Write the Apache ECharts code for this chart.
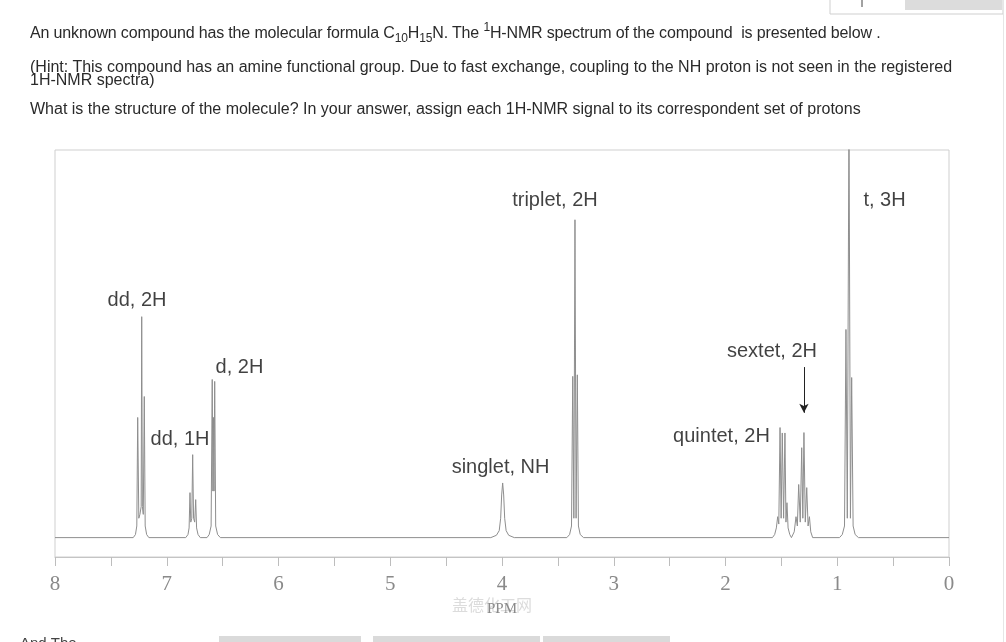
<!DOCTYPE html>
<html>
<head>
<meta charset="utf-8">
<script src="https://cdn.jsdelivr.net/npm/echarts@6/dist/echarts.min.js"></script>
<style>
  html, body { margin:0; padding:0; background:#fff; }
  body { width:1006px; height:642px; overflow:hidden; position:relative; }
  .t { position:absolute; left:30px; white-space:nowrap; font-family:'Liberation Sans', Arial, sans-serif; font-size:16px; color:#2a2a2a; line-height:18px; }
  .t sub { font-size:12px; vertical-align:-4px; line-height:0; }
  .t sup { font-size:12px; vertical-align:7px; line-height:0; }
  #chart { position:absolute; left:0; top:0; width:1006px; height:642px; }
</style>
</head>
<body>
<div id="chart"></div>
<div class="t" style="top:24px; letter-spacing:-0.15px;">An unknown compound has the molecular formula C<sub>10</sub>H<sub>15</sub>N. The <sup>1</sup>H-NMR spectrum of the compound&nbsp; is presented below .</div>
<div class="t" style="top:58px;">(Hint: This compound has an amine functional group. Due to fast exchange, coupling to the NH proton is not seen in the registered</div>
<div class="t" style="top:71px;">1H-NMR spectra)</div>
<div class="t" style="top:100px;">What is the structure of the molecule? In your answer, assign each 1H-NMR signal to its correspondent set of protons</div>
<script>
// Spectrum trace: [ppm, intensity]
const spectrum = [
  [8.00, 0],
  // dd, 2H
  [7.30, 0], [7.28, 0.8], [7.268, 3], [7.260, 31], [7.250, 5], [7.240, 6], [7.229, 8], [7.224, 57], [7.218, 8], [7.210, 6], [7.201, 36.4], [7.193, 3], [7.18, 0.8], [7.16, 0],
  // dd, 1H
  [6.83, 0], [6.81, 0.8], [6.800, 2.5], [6.792, 11.6], [6.785, 4], [6.776, 5], [6.768, 21.4], [6.760, 5], [6.750, 4], [6.741, 9.8], [6.733, 2.5], [6.72, 0.8], [6.70, 0],
  // d, 2H
  [6.64, 0], [6.62, 0.8], [6.603, 3], [6.593, 40.8], [6.587, 12], [6.582, 31], [6.577, 12], [6.571, 40.3], [6.562, 3], [6.545, 0.8], [6.52, 0],
  // singlet, NH
  [4.10, 0], [4.05, 0.6], [4.025, 1.8], [4.012, 5], [4.003, 11], [3.994, 14.1], [3.985, 11], [3.976, 5], [3.963, 1.8], [3.94, 0.6], [3.89, 0],
  // triplet, 2H
  [3.42, 0], [3.395, 0.8], [3.378, 3], [3.367, 41.6], [3.357, 5], [3.347, 82], [3.337, 5], [3.326, 42], [3.316, 3], [3.30, 0.8], [3.27, 0],
  // quintet, 2H
  [1.58, 0], [1.56, 0.8], [1.545, 2.5], [1.533, 5.4], [1.523, 3.5], [1.512, 28.4], [1.502, 5], [1.492, 27], [1.480, 5], [1.468, 27], [1.459, 4], [1.450, 9], [1.440, 2.5], [1.425, 0.8], [1.41, 0],
  // sextet, 2H
  [1.40, 0], [1.385, 1.5], [1.369, 5.4], [1.357, 3], [1.345, 13.7], [1.331, 4], [1.318, 23.2], [1.308, 5], [1.298, 27.1], [1.286, 4], [1.273, 12.9], [1.261, 3], [1.249, 5.4], [1.237, 1.5], [1.22, 0],
  // t, 3H
  [0.98, 0], [0.955, 0.8], [0.935, 3], [0.922, 53.7], [0.910, 5], [0.895, 110], [0.882, 5], [0.871, 41.3], [0.858, 3], [0.84, 0.8], [0.81, 0],
  [0.00, 0]
];

// Annotation labels
const annoText = ['dd, 2H', 'd, 2H', 'dd, 1H', 'singlet, NH', 'triplet, 2H', 'quintet, 2H', 'sextet, 2H', 't, 3H'];
const annoPpm  = [7.266, 6.349, 6.881, 4.013, 3.526, 2.036, 1.584, 0.577];
const annoVal  = [61.3, 43.8, 25.2, 18.0, 87.1, 26.2, 48.1, 87.1];

// Arrow for the sextet: [ppm, from, to]
const arrowPpm = 1.298, arrowFrom = 44.0, arrowTo = 32.2;

// Axis
const xMin = 0, xMax = 8, xTickStep = 0.5;
const axisName = 'PPM';
const watermark = '盖德化工网';

const chart = echarts.init(document.getElementById('chart'), null, {renderer: 'canvas'});
chart.setOption({
  animation: false,
  backgroundColor: '#fff',
  grid: { left: 55, right: 57, top: 150, bottom: 85, show: true, borderColor: '#cfcfcf', borderWidth: 1, backgroundColor: 'transparent' },
  xAxis: {
    type: 'value', min: xMin, max: xMax, interval: xTickStep, inverse: true,
    axisLine: { show: true, onZero: false, lineStyle: { color: '#c4c4c4', width: 1 } },
    axisTick: { show: true, length: 9, lineStyle: { color: '#bdbdbd' } },
    splitLine: { show: false },
    axisLabel: {
      margin: 17, color: '#8a8a8a', fontFamily: 'Liberation Serif, serif', fontSize: 21,
      formatter: v => (Math.abs(v - Math.round(v)) < 1e-9 ? String(Math.round(v)) : '')
    },
    name: axisName, nameLocation: 'middle', nameGap: 45,
    nameTextStyle: { color: '#8a8a8a', fontFamily: 'Liberation Serif, serif', fontSize: 15 }
  },
  yAxis: { type: 'value', min: -5, max: 100, show: false },
  graphic: [
    { type: 'text', left: 452, top: 597, z: 0, style: { text: watermark, fill: '#dcdcdc', font: '16px "Noto Sans CJK SC"' } },
    { type: 'rect', shape: { x: 830, y: -1, width: 173, height: 15 }, style: { fill: '#fff', stroke: '#cfcfcf', lineWidth: 1 } },
    { type: 'rect', shape: { x: 905, y: 0, width: 97, height: 10 }, style: { fill: '#dcdcdc' } },
    { type: 'line', shape: { x1: 862, y1: 0, x2: 862, y2: 7 }, style: { stroke: '#444', lineWidth: 1 } },
    { type: 'line', shape: { x1: 1003.5, y1: 0, x2: 1003.5, y2: 642 }, style: { stroke: '#e6e6e6', lineWidth: 1 } },
    { type: 'rect', shape: { x: 219, y: 636, width: 142, height: 8 }, style: { fill: '#dadada' } },
    { type: 'rect', shape: { x: 373, y: 636, width: 167, height: 8 }, style: { fill: '#dadada' } },
    { type: 'rect', shape: { x: 543, y: 636, width: 127, height: 8 }, style: { fill: '#dadada' } },
    { type: 'text', left: 20, top: 636, style: { text: 'And The', fill: '#444', font: '15px "Liberation Sans"' } }
  ],
  series: [
    {
      type: 'line', data: spectrum, showSymbol: false, symbol: 'none', clip: true,
      lineStyle: { color: '#8e8e8e', width: 1 }, z: 2
    },
    {
      type: 'scatter', symbolSize: 0, z: 5,
      data: annoText.map((t, i) => ({ name: t, value: [annoPpm[i], annoVal[i]] })),
      label: { show: true, position: 'inside', formatter: '{b}', color: '#111', fontFamily: 'Liberation Sans, Arial, sans-serif', fontSize: 20 },
      markLine: {
        silent: true, symbol: ['none', 'arrow'], symbolSize: [7, 9], label: { show: false },
        lineStyle: { color: '#222', width: 1, type: 'solid' },
        data: [[{ coord: [arrowPpm, arrowFrom] }, { coord: [arrowPpm, arrowTo] }]]
      }
    }
  ]
});
</script>
</body>
</html>
